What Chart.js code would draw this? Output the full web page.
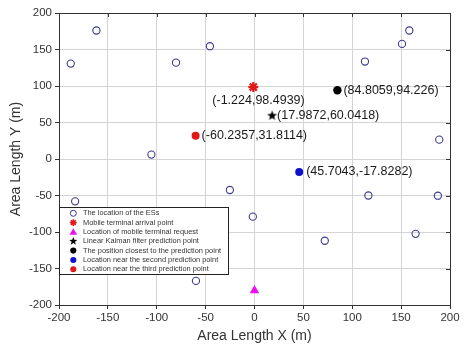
<!DOCTYPE html>
<html><head><meta charset="utf-8">
<script src="https://cdn.jsdelivr.net/npm/chart.js@4.4.0/dist/chart.umd.min.js"></script>
<style>html,body{margin:0;padding:0;background:#fff}#w{width:474px;height:355px}</style>
</head><body><div id="w"><canvas id="c" width="474" height="355"></canvas></div>
<script>
// ---- data ----
const esX = [-188, -161.7, -80.3, -45.6, -105.5, -183.5, -25.2, -59.9, -1.7, 71.9, 116.5, 187.6, 164.8, 158.4, 150.9, 113, 189];
const esY = [130.7, 176, 132, 154.5, 6, -58, -42.5, -167, -79, -112, -50, -50.3, -102.5, 176, 157.7, 133.5, 26.5];
const arrivalPt = [-1.224, 98.4939];
const requestPt = [0, -180];
const kalmanPt = [17.9872, 60.0418];
const closestPt = [84.8059, 94.226];
const secondPt = [45.7043, -17.8282];
const thirdPt = [-60.2357, 31.8114];
const axisTicks = [-200, -150, -100, -50, 0, 50, 100, 150, 200];
const legendLabels = ["The location of the ESs", "Mobile terminal arrival point", "Location of mobile terminal request",
  "Linear Kalman filter prediction point", "The position closest to the prediction point",
  "Location near the second prediction point", "Location near the third prediction point"];
const pointLabels = ["(-1.224,98.4939)", "(84.8059,94.226)", "(17.9872,60.0418)", "(-60.2357,31.8114)", "(45.7043,-17.8282)"];

const FONT = "'Liberation Sans', Arial, sans-serif";
const circleCol = '#3b3b8f';

function starPath(ctx, cx, cy, R) {
  const r = R * 0.42;
  ctx.beginPath();
  for (let i = 0; i < 10; i++) {
    const a = -Math.PI / 2 + i * Math.PI / 5;
    const rr = i % 2 === 0 ? R : r;
    const x = cx + rr * Math.cos(a), y = cy + rr * Math.sin(a);
    if (i === 0) ctx.moveTo(x, y); else ctx.lineTo(x, y);
  }
  ctx.closePath();
}
function makeStarCanvas(R) {
  const cv = document.createElement('canvas');
  const s = Math.ceil(R * 2 + 2);
  cv.width = s; cv.height = s;
  const g = cv.getContext('2d');
  starPath(g, s / 2, s / 2 + 0.5, R);
  g.fillStyle = '#000'; g.fill();
  return cv;
}
const starImg = makeStarCanvas(5.2);

function drawMarker(ctx, kind, x, y, s) {
  ctx.save();
  if (kind === 0) {
    ctx.beginPath(); ctx.arc(x, y, 3 * s, 0, Math.PI * 2);
    ctx.strokeStyle = circleCol; ctx.lineWidth = 1; ctx.stroke();
  } else if (kind === 1) {
    const r = 4 * s;
    ctx.strokeStyle = '#e01818'; ctx.lineWidth = 1.6;
    ctx.beginPath();
    for (let i = 0; i < 4; i++) {
      const a = i * Math.PI / 4;
      ctx.moveTo(x - r * Math.cos(a), y - r * Math.sin(a));
      ctx.lineTo(x + r * Math.cos(a), y + r * Math.sin(a));
    }
    ctx.stroke();
  } else if (kind === 2) {
    const r = 4.5 * s;
    ctx.fillStyle = '#ee10ee';
    ctx.beginPath(); ctx.moveTo(x, y - r); ctx.lineTo(x + r, y + r * 0.75); ctx.lineTo(x - r, y + r * 0.75); ctx.closePath(); ctx.fill();
  } else if (kind === 3) {
    starPath(ctx, x, y, 5 * s); ctx.fillStyle = '#000'; ctx.fill();
  } else {
    const c = ['#000', '#1010d0', '#e01818'][kind - 4];
    ctx.beginPath(); ctx.arc(x, y, 3.6 * s, 0, Math.PI * 2); ctx.fillStyle = c; ctx.fill();
  }
  ctx.restore();
}

const overlay = {
  id: 'overlay',
  afterDatasetsDraw(chart) {
    const ctx = chart.ctx, a = chart.chartArea, xs = chart.scales.x, ys = chart.scales.y;
    ctx.save();
    // inward ticks on top and right
    ctx.strokeStyle = '#333'; ctx.lineWidth = 1;
    ctx.beginPath();
    axisTicks.forEach(v => {
      const px = Math.round(xs.getPixelForValue(v)) + 0.5;
      ctx.moveTo(px, a.top); ctx.lineTo(px, a.top + 4);
      const py = Math.round(ys.getPixelForValue(v)) + 0.5;
      ctx.moveTo(a.right, py); ctx.lineTo(a.right - 4, py);
    });
    ctx.stroke();
    ctx.beginPath();
    ctx.rect(Math.round(a.left) + 0.5, Math.round(a.top) + 0.5, Math.round(a.right - a.left), Math.round(a.bottom - a.top));
    ctx.strokeStyle = '#333'; ctx.stroke();

    // point labels
    const pts = [arrivalPt, closestPt, kalmanPt, thirdPt, secondPt];
    const offs = [[-41, 13], [6, 0], [5, 0], [6, 0], [7, 0]];
    ctx.font = '12.5px ' + FONT; ctx.fillStyle = '#1a1a1a';
    ctx.textAlign = 'left'; ctx.textBaseline = 'middle';
    pts.forEach((p, i) => {
      const px = xs.getPixelForValue(p[0]), py = ys.getPixelForValue(p[1]);
      ctx.fillText(pointLabels[i], px + offs[i][0], py + offs[i][1]);
    });

    // legend
    const lx = a.left, ly = 207, lw = 169, lh = 67;
    ctx.fillStyle = '#fff'; ctx.fillRect(lx, ly, lw, lh);
    ctx.strokeStyle = '#222'; ctx.lineWidth = 1;
    ctx.strokeRect(Math.round(lx) + 0.5, ly + 0.5, lw, lh);
    ctx.font = '7.4px ' + FONT; ctx.fillStyle = '#333';
    legendLabels.forEach((t, i) => {
      const y = 213.3 + i * 9.33;
      drawMarker(ctx, i, 73.3, y, i === 0 ? 1 : 0.85);
      ctx.fillStyle = '#333';
      ctx.fillText(t, 83, y);
    });
    ctx.restore();
  }
};

const tickFont = { family: FONT, size: 11.5 };
const mk = (x, y) => ({ x, y });
new Chart(document.getElementById('c'), {
  type: 'scatter',
  data: {
    datasets: [
      { data: esX.map((x, i) => mk(x, esY[i])), pointStyle: 'circle', pointRadius: 3.6, pointBorderWidth: 1.1,
        pointBorderColor: circleCol, pointBackgroundColor: 'rgba(0,0,0,0)' },
      { data: [mk(arrivalPt[0], arrivalPt[1])], pointStyle: 'star', pointRadius: 5, pointBorderWidth: 2.2,
        pointBorderColor: '#e01818', pointBackgroundColor: '#e01818' },
      { data: [mk(requestPt[0], requestPt[1])], pointStyle: 'triangle', pointRadius: 5.5, pointBorderWidth: 0,
        pointBorderColor: '#ee10ee', pointBackgroundColor: '#ee10ee' },
      { data: [mk(kalmanPt[0], kalmanPt[1])], pointStyle: starImg },
      { data: [mk(closestPt[0], closestPt[1])], pointRadius: 4.2, pointBorderWidth: 0, pointBackgroundColor: '#000' },
      { data: [mk(secondPt[0], secondPt[1])], pointRadius: 4, pointBorderWidth: 0, pointBackgroundColor: '#1010d0' },
      { data: [mk(thirdPt[0], thirdPt[1])], pointRadius: 4, pointBorderWidth: 0, pointBackgroundColor: '#e01818' }
    ]
  },
  options: {
    responsive: false, animation: false, devicePixelRatio: 1,
    layout: { padding: { top: 13, right: 24, left: 0, bottom: 0 } },
    plugins: { legend: { display: false }, tooltip: { enabled: false } },
    scales: {
      x: {
        type: 'linear', min: -200, max: 200,
        afterBuildTicks: s => { s.ticks = axisTicks.map(v => ({ value: v })); },
        afterFit: s => { s.height = 50; },
        grid: { color: '#d4d4d4', tickLength: 4, tickColor: '#333' },
        border: { color: '#333', width: 1 },
        ticks: { font: tickFont, color: '#333', padding: 2, maxRotation: 0 },
        title: { display: true, text: 'Area Length X (m)', font: { family: FONT, size: 14 }, color: '#333', padding: { top: 5, bottom: 10 } }
      },
      y: {
        type: 'linear', min: -200, max: 200,
        afterBuildTicks: s => { s.ticks = axisTicks.map(v => ({ value: v })); },
        afterFit: s => { s.width = 59; },
        grid: { color: '#d4d4d4', tickLength: 4, tickColor: '#333' },
        border: { color: '#333', width: 1 },
        ticks: { font: tickFont, color: '#333', padding: 3 },
        title: { display: true, text: 'Area Length Y (m)', font: { family: FONT, size: 14 }, color: '#333', padding: { top: 8, bottom: 4 } }
      }
    }
  },
  plugins: [overlay]
});
</script></body></html>
